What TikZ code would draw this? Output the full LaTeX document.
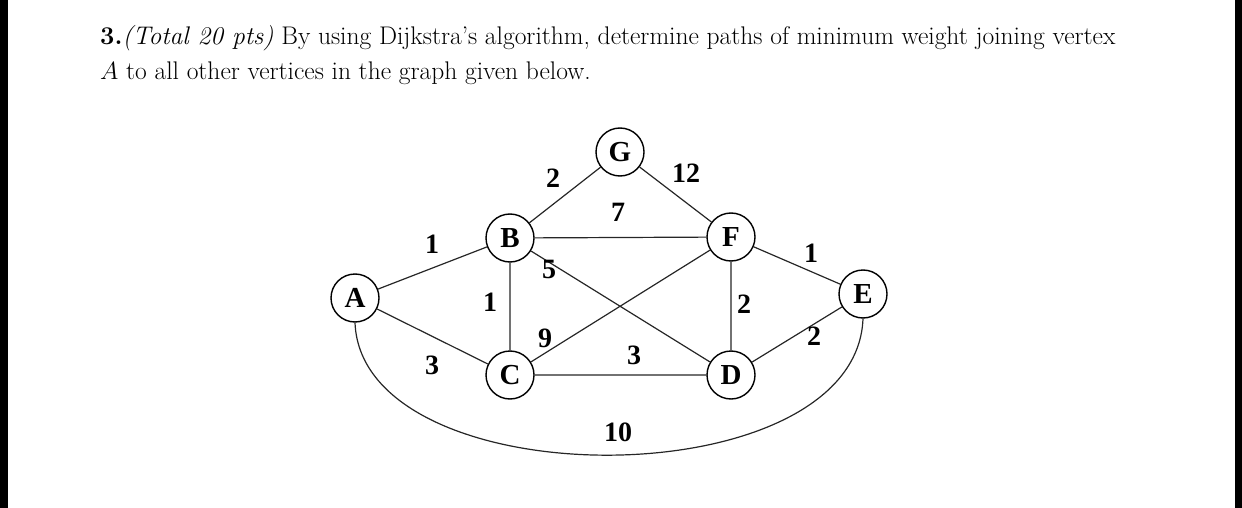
\documentclass[tikz,border=0pt]{standalone}
\usepackage{fontspec}
\newfontfamily\lab{Liberation Serif}
\begin{document}
\begin{tikzpicture}[x=1pt,y=-1pt,
  vtx/.style={circle,draw,line width=1.4pt,minimum size=48pt,inner sep=0pt,font=\lab\bfseries\fontsize{29}{29}\selectfont},
  wt/.style={font=\lab\bfseries\fontsize{28}{28}\selectfont,inner sep=0pt},
  edge/.style={line width=1.2pt,black!85}]
\useasboundingbox (0,0) rectangle (1242,508);
\fill[black] (0,0) rectangle (8,508);
\fill[black] (1235,0) rectangle (1242,508);
\node[anchor=base west,inner sep=0pt,font=\fontsize{25.5}{30}\selectfont] (t1) at (100,45) {\textbf{3.}\textit{(Total 20 pts)} By using Dijkstra's algorithm, determine paths of minimum weight joining vertex};
\node[anchor=base west,inner sep=0pt,font=\fontsize{25.5}{30}\selectfont] (t2) at (100,80) {$A$ to all other vertices in the graph given below.};
\node[vtx] (A) at (355,298) {A};
\node[vtx] (B) at (510,238) {B};
\node[vtx] (C) at (510,375) {C};
\node[vtx] (D) at (731,375) {D};
\node[vtx] (F) at (731,237) {F};
\node[vtx] (G) at (620,152) {G};
\node[vtx] (E) at (863,294) {E};
\draw[edge] (A)--(B) (A)--(C) (B)--(C) (B)--(G) (G)--(F) (B)--(F) (B)--(D) (C)--(F) (C)--(D) (F)--(D) (F)--(E) (D)--(E);
\draw[edge] (A.south) .. controls (362,500) and (856,500) .. (E.south);
\node[wt] (l1) at (553,178) {2};
\node[wt] (l2) at (686,173) {12};
\node[wt] (l3) at (618,212) {7};
\node[wt] (l4) at (432,244) {1};
\node[wt] (l5) at (549,269) {5};
\node[wt] (l6) at (490,302) {1};
\node[wt] (l7) at (744,304) {2};
\node[wt] (l8) at (811,253) {1};
\node[wt] (l9) at (814,336) {2};
\node[wt] (l10) at (545,338) {9};
\node[wt] (l11) at (432,365) {3};
\node[wt] (l12) at (634,355) {3};
\node[wt] (l13) at (618,432) {10};
\end{tikzpicture}
\end{document}
